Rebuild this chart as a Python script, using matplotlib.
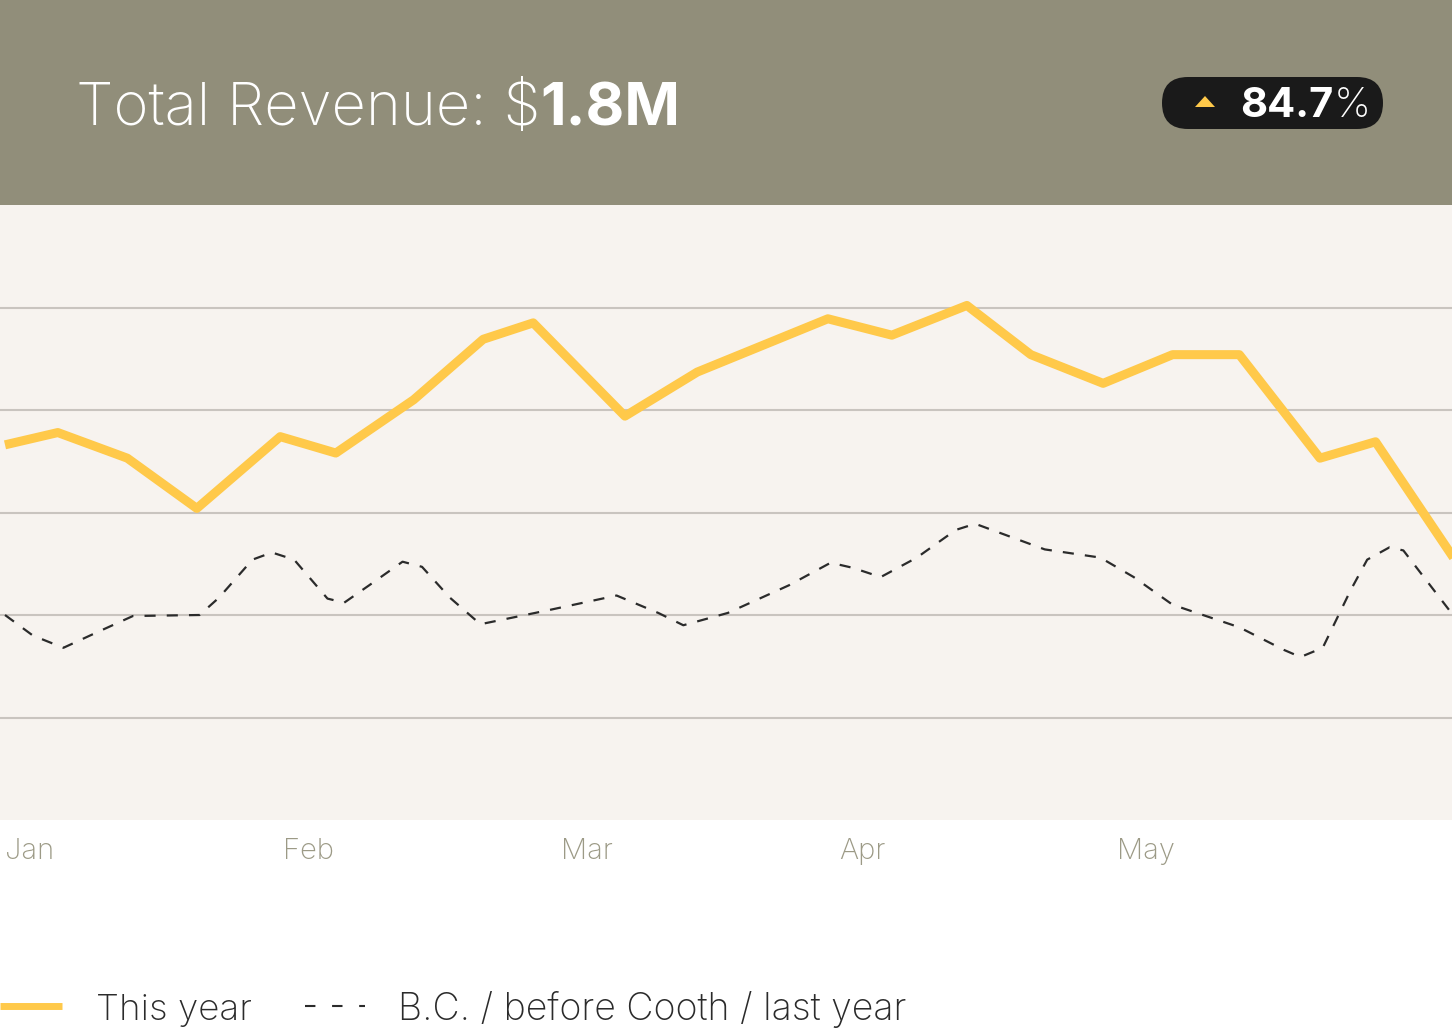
import matplotlib
matplotlib.use("Agg")
import matplotlib.pyplot as plt
from matplotlib.patches import Rectangle, FancyBboxPatch, Polygon
from matplotlib.lines import Line2D
from matplotlib.transforms import IdentityTransform

# month index (0 = Jan) and revenue ($K)
this_year_x = [0.00, 0.19, 0.44, 0.69, 0.99, 1.19, 1.47, 1.72, 1.90, 2.23, 2.49,
               2.96, 3.19, 3.46, 3.69, 3.95, 4.20, 4.44, 4.73, 4.93, 5.21]
this_year_y = [266, 278, 253, 204, 274, 258, 310, 369, 385, 294, 337,
               389, 373, 402, 354, 326, 354, 354, 253, 269, 156]

last_year_x = [0.00, 0.10, 0.21, 0.33, 0.46, 0.70, 0.77, 0.89, 0.96, 1.04, 1.16,
               1.22, 1.31, 1.43, 1.50, 1.60, 1.71, 1.96, 2.20, 2.35, 2.44, 2.60,
               2.82, 2.97, 3.05, 3.15, 3.28, 3.42, 3.49, 3.74, 3.94, 4.06, 4.20,
               4.44, 4.60, 4.66, 4.74, 4.84, 4.90, 4.98, 5.03, 5.20]
last_year_y = [100, 80, 68, 83, 99, 100, 117, 154, 161, 154, 116,
               112, 129, 152, 147, 117, 91, 105, 119, 102, 90, 102,
               129, 151, 146, 137, 156, 183, 189, 164, 156, 137, 110,
               88, 66, 59, 68, 124, 154, 166, 163, 103]

months = ["Jan", "Feb", "Mar", "Apr", "May"]
grid_values = [0, 100, 200, 300, 400]

total_revenue = "1.8M"
change_pct = "84.7"

YELLOW = "#FFC94A"
HEADER = "#918E7A"
PLOT_BG = "#F7F3EF"
GRID = "#C9C4BF"
TICK = "#9C9A86"
DARK = "#2B2B2B"
FONT = "Inter"

W, H = 1456, 1029
fig = plt.figure(figsize=(W / 100, H / 100), dpi=100)
fig.patch.set_facecolor("white")

# header band
fig.add_artist(Rectangle((0, (H - 205) / H), 1452 / W, 205 / H,
                         transform=fig.transFigure, facecolor=HEADER, edgecolor="none"))

ax = fig.add_axes([0, (H - 820) / H, 1452 / W, (820 - 205) / H])
ax.set_facecolor(PLOT_BG)
for s in ax.spines.values():
    s.set_visible(False)

ax.plot(last_year_x, last_year_y, color=DARK, lw=1.6, dashes=(5, 5),
        dash_joinstyle="round", zorder=3)
ax.plot(this_year_x, this_year_y, color=YELLOW, lw=6.5, solid_joinstyle="round",
        solid_capstyle="butt", zorder=4)

ax.set_xlim(-0.018, 5.205)
ax.set_ylim(-100, 500)
ax.set_yticks(grid_values)
ax.set_yticklabels([])
ax.tick_params(axis="y", length=0)
ax.grid(axis="y", color=GRID, lw=1.5)
ax.set_axisbelow(True)

ax.set_xticks(range(len(months)))
ax.set_xticklabels(months, fontsize=21, color=TICK, family=FONT, fontweight="light", ha="left")
ax.tick_params(axis="x", length=0, pad=13)

# title
t1 = fig.text(76 / W, (H - 125) / H, "Total Revenue: $", fontsize=43, color="white",
              family=FONT, fontweight="light", va="baseline")
fig.canvas.draw()
bb = t1.get_window_extent()
fig.text(bb.x1 / W, (H - 125) / H, total_revenue, fontsize=43, color="white",
         family=FONT, fontweight="bold", va="baseline")

# change badge
idt = IdentityTransform()
fig.add_artist(FancyBboxPatch((1162, H - 129), 221, 52,
                              boxstyle="round,pad=0,rounding_size=26",
                              transform=idt, facecolor="#1A1A1A", edgecolor="none"))
fig.add_artist(Polygon([(1195, H - 107), (1215, H - 107), (1205, H - 96)],
                       closed=True, transform=idt, facecolor=YELLOW, edgecolor="none"))
p1 = fig.text(1240 / W, (H - 117) / H, change_pct, fontsize=30, color="white",
              family=FONT, fontweight="bold", va="baseline")
fig.canvas.draw()
bb = p1.get_window_extent()
fig.text(bb.x1 / W, (H - 117) / H, "%", fontsize=30, color="white",
         family=FONT, fontweight="light", va="baseline")

# legend
fig.add_artist(Line2D([0, 62], [H - 1006, H - 1006], transform=idt, color=YELLOW,
                      lw=5, solid_capstyle="butt"))
fig.text(96 / W, (H - 1020) / H, "This year", fontsize=26.5, color=DARK,
         family=FONT, fontweight="light", va="baseline")
fig.add_artist(Line2D([305, 365], [H - 1006, H - 1006], transform=idt, color=DARK,
                      lw=1.5, dashes=(5, 8)))
fig.text(398 / W, (H - 1020) / H, "B.C. / before Cooth / last year", fontsize=27,
         color=DARK, family=FONT, fontweight="light", va="baseline")

fig.savefig("out.png", dpi=100, facecolor=fig.get_facecolor())
